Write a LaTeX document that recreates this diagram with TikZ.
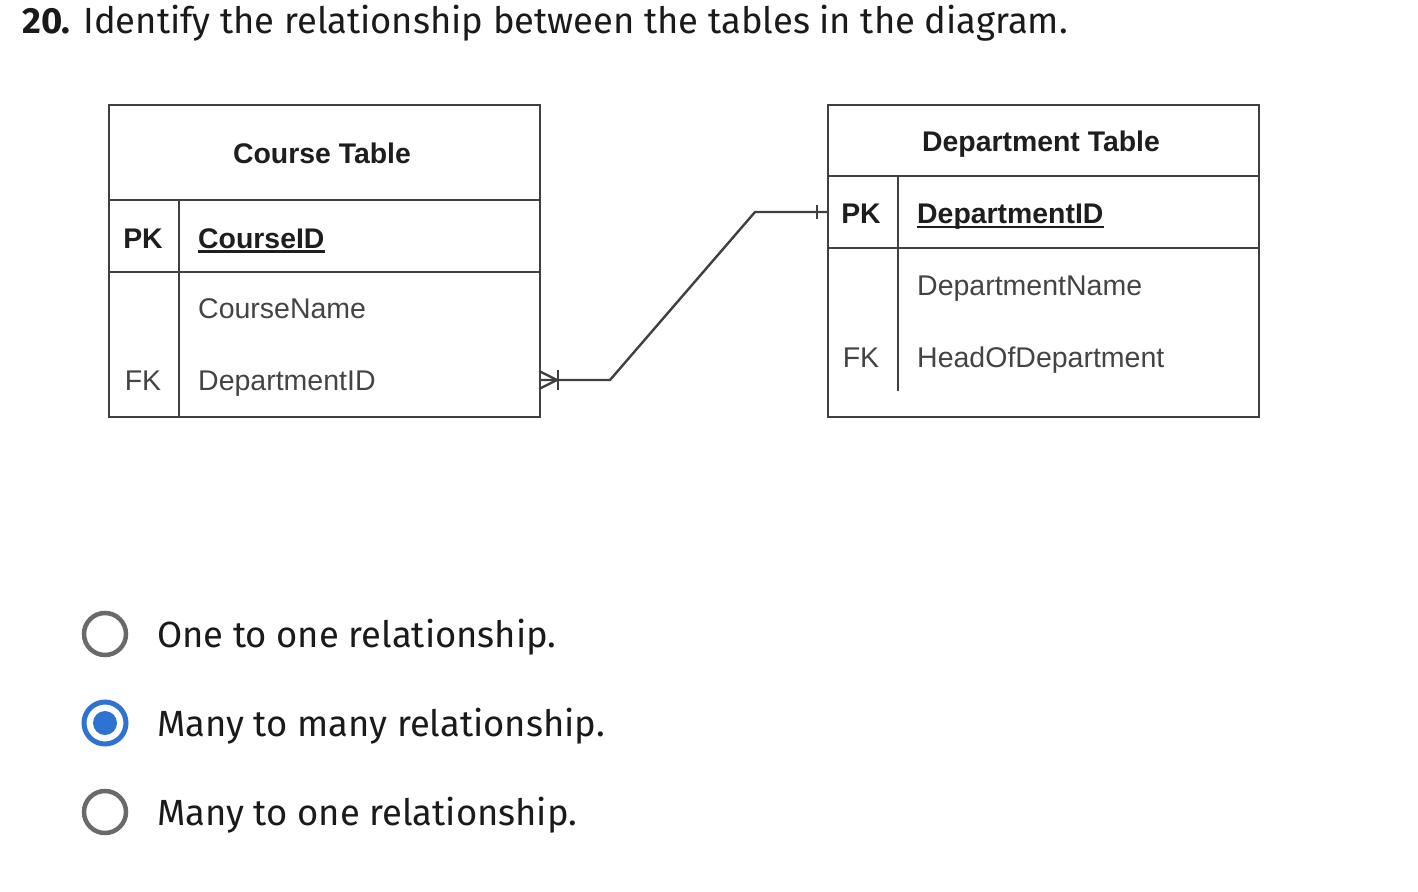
\documentclass[tikz,border=0pt]{standalone}
\usepackage{fontspec}
\setmainfont{Fira Sans}
\newfontfamily\arialf{Liberation Sans}
\usetikzlibrary{calc}
\definecolor{tline}{HTML}{404040}
\definecolor{ttext}{HTML}{444444}
\definecolor{thead}{HTML}{1E1E1E}
\definecolor{radiog}{HTML}{6A6A6A}
\definecolor{radiob}{HTML}{2E73D1}
\definecolor{qtext}{HTML}{1A1A1A}
\tikzset{
  tbl/.style={draw=tline,line width=2.4pt},
  sepline/.style={draw=tline,line width=2.4pt},
  hdr/.style={font=\arialf\bfseries\fontsize{28.4}{32}\selectfont,text=thead,inner sep=0pt},
  pkkey/.style={font=\arialf\bfseries\fontsize{28.4}{32}\selectfont,text=thead,inner sep=0pt},
  fkkey/.style={font=\arialf\fontsize{28.5}{32}\selectfont,text=ttext,inner sep=0pt},
  attr/.style={font=\arialf\fontsize{28.5}{32}\selectfont,text=ttext,inner sep=0pt},
  pkattr/.style={font=\arialf\bfseries\fontsize{28.4}{32}\selectfont,text=thead,inner sep=0pt},
  uline/.style={draw=thead,line width=2.2pt},
  conn/.style={draw=tline,line width=2.4pt},
  qfont/.style={font=\fontsize{36.4}{42}\selectfont,text=qtext,inner sep=0pt},
  radiooff/.style={draw=radiog,line width=4.5pt},
  radioon/.style={draw=radiob,line width=5pt},
}
\begin{document}
\begin{tikzpicture}[x=1pt,y=-1pt]
\useasboundingbox[fill=white] (0,0) rectangle (1418,891);
% title
\node[qfont,anchor=base west] (title) at (22,34) {\textbf{20.} Identify the relationship between the tables in the diagram.};

% ---------- Course table ----------
\node[tbl,minimum width=431pt,minimum height=312pt,inner sep=0pt,anchor=north west] (course) at (108,104) {};
\draw[sepline] (108,200) -- (539,200);
\draw[sepline] (108,272) -- (539,272);
\draw[sepline] (179,200) -- (179,416);
\node[hdr,anchor=base] (ctitle) at (322,163) {Course Table};
\node[pkkey,anchor=base] (cpk) at (143,248) {PK};
\node[pkattr,anchor=base west] (cid) at (198,248) {CourseID};
\draw[uline] (cid.base west) ++(0,3.5) -- ($(cid.base east)+(0,3.5)$);
\node[attr,anchor=base west] (cname) at (198,318) {CourseName};
\node[fkkey,anchor=base] (cfk) at (143,390) {FK};
\node[attr,anchor=base west] (cdept) at (198,390) {DepartmentID};

% ---------- Department table ----------
\node[tbl,minimum width=431pt,minimum height=312pt,inner sep=0pt,anchor=north west] (dept) at (827,104) {};
\draw[sepline] (827,176) -- (1258,176);
\draw[sepline] (827,248) -- (1258,248);
\draw[sepline] (898,176) -- (898,391);
\node[hdr,anchor=base] (dtitle) at (1041,151) {Department Table};
\node[pkkey,anchor=base] (dpk) at (861,223) {PK};
\node[pkattr,anchor=base west] (did) at (917,223) {DepartmentID};
\draw[uline] (did.base west) ++(0,4) -- ($(did.base east)+(0,4)$);
\node[attr,anchor=base west] (dname) at (917,295) {DepartmentName};
\node[fkkey,anchor=base] (dfk) at (861,367) {FK};
\node[attr,anchor=base west] (dhead) at (917,367) {HeadOfDepartment};

% ---------- connector ----------
\coordinate (cend) at (539,380);
\coordinate (dend) at (827,212);
\draw[conn] (cend) -- ++(71,0) coordinate (k1) -- ($(dend)+(-72,0)$) coordinate (k2) -- (dend);
% crow's foot (many) with bar
\draw[conn] (cend) ++(18,0) -- ++(-18,-9);
\draw[conn] (cend) ++(18,0) -- ++(-18,9);
\draw[conn] ($(cend)+(19,-10)$) -- ($(cend)+(19,10)$);
% one bar
\draw[conn] ($(dend)+(-10,-7)$) -- ($(dend)+(-10,7)$);

% ---------- options ----------
\node[radiooff,circle,minimum size=42pt,inner sep=0pt] (r1) at (105,634) {};
\node[radioon,circle,minimum size=42pt,inner sep=0pt] (r2) at (105,723) {};
\fill[radiob] (r2.center) circle (12pt);
\node[radiooff,circle,minimum size=42pt,inner sep=0pt] (r3) at (105,812) {};
\node[qfont,anchor=base west] (o1) at (157,647) {One to one relationship.};
\node[qfont,anchor=base west] (o2) at (157,736) {Many to many relationship.};
\node[qfont,anchor=base west] (o3) at (157,825) {Many to one relationship.};
\end{tikzpicture}
\end{document}
